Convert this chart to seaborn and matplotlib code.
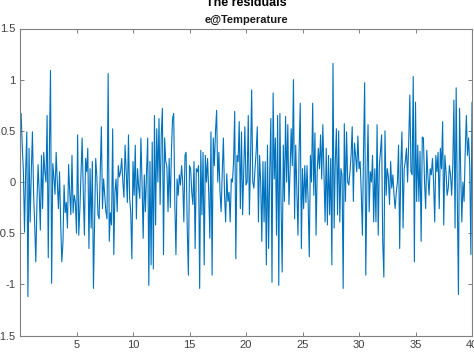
import numpy as np
import pandas as pd
import matplotlib
matplotlib.use("Agg")
import matplotlib.pyplot as plt
import seaborn as sns

# residual values, 0.1 step in 5-unit blocks
res_00_05 = [0.67, 0.35, 0.1, -0.49, 0.1, 0.49, -1.12, 0.33, -0.39, 0.1,
             0.49, -0.1, -0.42, -0.78, -0.2, 0.17, -0.1, -0.47, 0.26, -0.26,
             0.29, 0.1, 0.0, 0.65, -0.74, 0.3, 1.09, -0.99, 0.18, 0.05,
             -0.12, 0.29, 0.0, -0.26, 0.1, -0.4, -0.78, -0.6, -0.03, -0.3,
             -0.2, -0.45, 0.17, -0.1, -0.32, 0.26, -0.3, -0.13, -0.2, -0.5]
res_05_10 = [0.46, -0.52, -0.26, 0.1, 0.43, -0.1, -0.52, 0.23, 0.1, 0.33,
             -0.65, 0.13, -0.45, 0.2, -1.04, -0.4, 0.23, 0.05, -0.32, -0.36,
             0.1, 0.54, -0.26, 0.03, -0.13, -0.29, -0.36, 1.06, -0.58, -0.3,
             -0.42, 0.52, -0.71, -0.1, 0.03, -0.29, 0.16, 0.05, 0.1, 0.23,
             0.0, -0.15, 0.36, 0.1, -0.2, 0.46, -0.15, -0.3, -0.75, 0.2]
res_10_15 = [-0.13, 0.36, -0.36, 0.13, -0.05, -0.16, 0.43, 0.0, -0.55, 0.07,
             -0.29, 0.1, 0.43, -1.01, 0.2, -0.81, 0.39, -0.85, 0.65, -0.42,
             0.52, 0.0, 0.62, -0.22, 0.46, 0.72, -0.71, 0.43, 0.2, 0.15,
             -0.29, 0.23, -0.25, 0.3, 0.62, 0.67, -0.2, -0.71, 0.03, -0.13,
             0.07, -0.03, 0.16, 0.0, -0.39, 0.26, 0.29, -0.45, -0.91, 0.16]
res_15_20 = [0.13, -0.1, -0.22, 0.2, -0.65, 0.13, 0.1, 0.16, -1.04, 0.31,
             -0.32, 0.29, -0.81, 0.26, 0.0, 0.23, -0.1, -0.55, 0.49, -0.91,
             0.43, 0.16, 0.49, 0.7, 0.0, 0.29, -0.1, -0.29, 0.1, 0.43,
             -0.13, -0.39, 0.08, -0.19, -0.1, -0.39, 0.03, 0.0, 0.2, 0.69,
             -0.75, 0.26, 0.2, 0.59, -0.26, 0.49, -0.32, 0.1, 0.54, -0.03]
res_20_25 = [0.0, 0.65, -0.32, 0.2, 0.9, 0.0, -0.06, 0.13, 0.3, 0.54,
             -0.39, 0.26, 0.0, -0.58, 0.2, -0.39, 0.2, -0.81, 0.36, -0.65,
             0.1, 0.62, -0.98, 0.87, 0.03, 0.43, -0.52, 0.65, -1.01, 0.67,
             -0.2, -0.88, 0.36, -0.19, 0.64, 0.0, 0.56, -0.22, 0.1, 0.52,
             0.16, 1.0, -0.36, 0.36, -0.06, -0.52, 0.3, 0.77, -0.65, 0.13]
res_25_30 = [-0.26, 0.16, -0.2, 0.16, -0.2, -0.73, 0.26, 0.0, 0.77, -0.13,
             0.48, -0.52, 0.1, 0.33, 0.13, 0.46, 0.03, 0.56, 0.1, -0.39,
             0.33, -0.42, 0.26, -0.32, 0.23, -0.81, 1.16, -0.45, 0.2, 0.52,
             -0.32, 0.5, -0.39, 0.13, 0.07, -1.04, 0.57, -0.19, 0.49, 0.0,
             -0.03, 0.1, 0.26, 0.54, -0.19, 0.38, 0.26, 0.1, 0.45, 0.13]
res_30_35 = [0.2, -0.1, -0.52, 0.3, 0.97, -0.91, 0.0, 0.56, -0.29, 0.1,
             0.0, 0.26, -0.39, 0.13, -0.39, 0.56, -0.52, 0.16, 0.3, 0.46,
             -0.58, -0.93, 0.5, -0.13, 0.13, 0.05, -0.22, 0.2, -0.06, 0.07,
             -0.13, -0.26, -0.1, 0.0, 0.36, -0.65, 0.16, 0.49, -0.45, 0.13,
             0.2, 0.33, 0.0, 0.4, 0.85, 0.1, 0.07, 1.03, -0.78, 0.78]
res_35_40 = [-0.19, 0.36, -0.19, 0.3, -0.58, 0.44, 0.43, 0.0, -0.26, 0.31,
             0.05, -0.13, 0.13, 0.07, 0.23, 0.0, -0.39, 0.26, 0.1, 0.29,
             -0.26, 0.33, 0.13, 0.59, -0.42, 0.26, 0.1, -0.13, -0.06, 0.16,
             0.07, -0.13, 0.16, 0.8, -0.45, 0.92, -0.16, -1.1, 0.72, 0.1,
             -0.39, 0.0, -0.19, 0.3, 0.65, 0.26, 0.43, 0.16, -0.71, 0.78]

x_ticks = [5, 10, 15, 20, 25, 30, 35, 40]
y_ticks = [-1.5, -1, -0.5, 0, 0.5, 1, 1.5]
y_tick_labels = ["-1.5", "-1", "-0.5", "0", "0.5", "1", "1.5"]

values = (res_00_05 + res_05_10 + res_10_15 + res_15_20 +
          res_20_25 + res_25_30 + res_30_35 + res_35_40)
t = np.arange(1, len(values) + 1) / 10.0
df = pd.DataFrame({"t": t, "e": values})

sns.set_theme(style="white")
plt.rcParams["font.family"] = ["Liberation Sans", "DejaVu Sans"]

fig = plt.figure(figsize=(4.74, 3.55), dpi=100)
ax = fig.add_axes([20 / 474, 1 - 335.5 / 355, 452 / 474, 307 / 355])
sns.lineplot(data=df, x="t", y="e", ax=ax, color="#0072BD", linewidth=0.8)

ax.set_xlim(0, 40)
ax.set_ylim(-1.5, 1.5)
ax.set_xticks(x_ticks)
ax.set_xticklabels([str(v) for v in x_ticks])
ax.set_yticks(y_ticks)
ax.set_yticklabels(y_tick_labels)
ax.set_xlabel("")
ax.set_ylabel("")
for s in ax.spines.values():
    s.set_color("#808080")
    s.set_linewidth(0.8)
ax.tick_params(direction="in", length=3, width=0.7, color="#808080",
               labelsize=8, labelcolor="#404040", top=True, right=True,
               bottom=True, left=True, pad=3)

fig.text(246 / 474, 1 - 6 / 355, "The residuals", ha="center", va="baseline",
         fontsize=9, fontweight="bold", color="black")
fig.text(246 / 474, 1 - 23 / 355, "e@Temperature", ha="center", va="baseline",
         fontsize=8, fontweight="bold", color="#1a1a1a")

fig.savefig("out.png", dpi=100)
